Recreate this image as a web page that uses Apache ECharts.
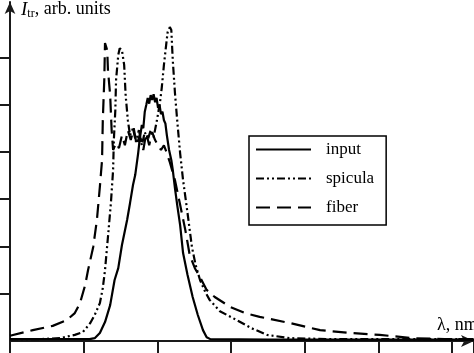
<!DOCTYPE html>
<html><head><meta charset="utf-8">
<script src="https://cdn.jsdelivr.net/npm/echarts@6/dist/echarts.min.js"></script>
<style>html,body{margin:0;padding:0;background:#fff}#c{width:474px;height:353px}</style>
</head><body><div id="c"></div>
<script>
// wavelength (arbitrary units, 100 per tick) and transmitted intensity (arb. units)
const inputX = [0,60,108,115,122,129,136,142,147,152,159,163,167,170,174,176,179,181,183,185,187,189,191,193,195,197,199,201,203,205,207,209,211,213,216,219,221,224,227,231,235,241,248,255,262,267,272,350,450,630];
const inputY = [0.04,0.04,0.04,0.06,0.17,0.40,0.76,1.29,1.54,2.03,2.56,2.92,3.30,3.51,3.97,4.25,4.57,4.50,4.85,4.99,5.14,5.02,5.20,5.10,5.22,5.05,5.14,4.93,5.00,4.80,4.85,4.67,4.60,4.35,4.04,3.83,3.62,3.23,2.88,2.45,1.86,1.40,0.93,0.55,0.23,0.08,0.04,0.03,0.03,0.03];

const spiculaX = [0,41,68,88,99,109,115,122,126,129,133,137,140,141,143,144,147,149,152,155,157,160,163,167,171,175,179,183,187,191,195,200,204,206,209,212,214,217,219,221,224,227,231,235,240,247,252,258,265,271,285,308,328,349,380,434,630];
const spiculaY = [0.04,0.04,0.06,0.13,0.19,0.38,0.55,0.80,1.12,1.50,2.20,2.92,3.62,4.25,4.88,5.52,6.05,6.19,6.15,5.84,5.20,4.67,4.35,4.50,4.21,4.46,4.14,4.42,4.25,4.46,4.31,4.71,5.09,5.35,5.84,6.26,6.53,6.64,6.58,5.94,5.24,4.67,3.97,3.40,2.83,1.99,1.61,1.29,1.04,0.87,0.63,0.44,0.27,0.13,0.06,0.04,0.04];

const fiberX = [0,31,58,77,88,95,102,106,113,118,122,125,126,128,129,132,133,136,138,140,144,148,152,156,160,164,168,172,176,181,185,189,193,197,201,205,209,213,217,224,231,238,244,251,258,267,278,299,319,339,380,421,461,502,547,590,630];
const fiberY = [0.11,0.23,0.32,0.44,0.59,0.80,1.18,1.50,1.99,2.56,3.26,3.83,4.67,5.52,6.30,6.15,5.73,5.20,4.46,4.04,4.19,4.08,4.35,4.14,4.46,4.25,4.50,4.14,4.35,4.04,4.40,4.14,4.42,4.25,4.14,4.04,4.14,3.97,3.78,3.40,2.88,2.35,1.82,1.54,1.35,1.08,0.93,0.72,0.59,0.51,0.38,0.23,0.17,0.13,0.06,0.04,0.04];

const seriesNames = ['input','spicula','fiber'];
const yTickValues = [1,2,3,4,5,6];

const zip = (xs, ys) => xs.map((x, i) => [x, ys[i]]);
const FONT = 'Liberation Serif';
const chart = echarts.init(document.getElementById('c'), null, {renderer: 'canvas'});
const axisCol = '#1a1a1a';
const mk = (name, xs, ys, type) => ({
  name, type: 'line', data: zip(xs, ys), showSymbol: false, symbol: 'none',
  lineStyle: {color: '#000', width: 2.2, type}, itemStyle: {color: '#000'},
  animation: false, z: 3
});
chart.setOption({
  animation: false,
  backgroundColor: '#fff',
  grid: {left: 10, right: 0, top: 2, bottom: 12, containLabel: false},
  xAxis: {
    type: 'value', min: 0, max: 630, interval: 100,
    axisLine: {show: true, onZero: false, symbol: ['none', 'arrow'], symbolSize: [9, 13], lineStyle: {color: axisCol, width: 2}},
    axisTick: {show: true, inside: false, length: 12, lineStyle: {color: axisCol, width: 2}},
    axisLabel: {show: false}, splitLine: {show: false}
  },
  yAxis: {
    type: 'value', min: 0, max: 7.17, interval: 1,
    axisLine: {show: true, onZero: false, symbol: ['none', 'arrow'], symbolSize: [8, 12], lineStyle: {color: axisCol, width: 2}},
    axisTick: {show: true, inside: false, length: 10, customValues: yTickValues, lineStyle: {color: axisCol, width: 2}},
    axisLabel: {show: false}, splitLine: {show: false}
  },
  legend: {
    data: seriesNames, orient: 'vertical', left: 249, top: 136,
    itemWidth: 55, itemHeight: 14, itemGap: 12,
    padding: [5, 12, 9, 6],
    borderColor: '#000', borderWidth: 1.5, backgroundColor: '#fff',
    itemStyle: {color: 'rgba(0,0,0,0)', borderWidth: 0, opacity: 0},
    textStyle: {fontFamily: FONT, fontSize: 17, color: '#000', padding: [0, 0, 0, 10]}
  },
  graphic: [
    {type: 'text', left: 21, top: 0, z: 10, style: {
      rich: {
        i: {fontFamily: FONT, fontStyle: 'italic', fontSize: 19, fill: '#000'},
        s: {fontFamily: FONT, fontSize: 12, fill: '#000', verticalAlign: 'bottom', padding: [8, 0, 0, 0]},
        n: {fontFamily: FONT, fontSize: 18, fill: '#000'}
      },
      text: '{i|I}{s|tr}{n|, arb. units}'
    }},
    {type: 'text', left: 437, top: 316, z: 10, style: {text: 'λ, nm', fontFamily: FONT, fontSize: 18, fill: '#000'}}
  ],
  series: [
    mk('input', inputX, inputY, 'solid'),
    mk('spicula', spiculaX, spiculaY, [8, 3, 2, 3, 2, 3]),
    mk('fiber', fiberX, fiberY, [14, 7])
  ]
});
</script></body></html>
